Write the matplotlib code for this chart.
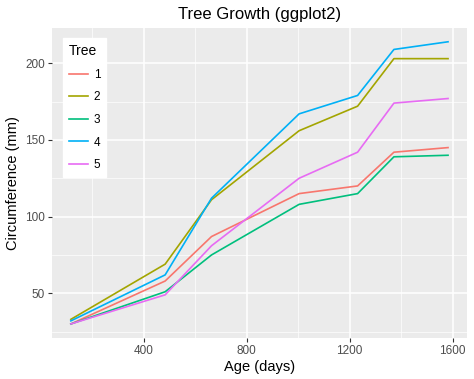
import matplotlib
matplotlib.use("Agg")
import matplotlib.pyplot as plt
from matplotlib.ticker import MultipleLocator

plt.rcParams['font.family'] = ['Liberation Sans', 'DejaVu Sans']

# Orange tree data
age = [118, 484, 664, 1004, 1231, 1372, 1582]
trees = ['1', '2', '3', '4', '5']
tree1 = [30, 58, 87, 115, 120, 142, 145]
tree2 = [33, 69, 111, 156, 172, 203, 203]
tree3 = [30, 51, 75, 108, 115, 139, 140]
tree4 = [32, 62, 112, 167, 179, 209, 214]
tree5 = [30, 49, 81, 125, 142, 174, 177]
colors = ['#F8766D', '#A3A500', '#00BF7D', '#00B0F6', '#E76BF3']

fig = plt.figure(figsize=(4.74, 3.79), dpi=100)
ax = fig.add_axes([0.1097, 0.108, 0.8753, 0.819])
ax.set_facecolor('#EBEBEB')

for name, vals, c in zip(trees, [tree1, tree2, tree3, tree4, tree5], colors):
    ax.plot(age, vals, color=c, lw=1.2, label=name)

ax.set_xlim(44.8, 1655.2)
ax.set_ylim(20.8, 223.2)
ax.xaxis.set_major_locator(MultipleLocator(400))
ax.xaxis.set_minor_locator(MultipleLocator(200))
ax.yaxis.set_major_locator(MultipleLocator(50))
ax.yaxis.set_minor_locator(MultipleLocator(25))
ax.grid(which='major', color='white', lw=1.1)
ax.grid(which='minor', color='white', lw=0.5)
ax.set_axisbelow(True)
for s in ax.spines.values():
    s.set_visible(False)
ax.tick_params(which='major', length=3, color='#333333', labelsize=8.5,
               labelcolor='#4D4D4D', pad=2)
ax.tick_params(which='minor', length=0)

ax.set_xlabel('Age (days)', fontsize=10.5, labelpad=2)
ax.set_ylabel('Circumference (mm)', fontsize=10.5, labelpad=4)
ax.set_title('Tree Growth (ggplot2)', fontsize=12, pad=6)

leg = ax.legend(title='Tree', loc='upper left', bbox_to_anchor=(0.012, 0.985),
                frameon=True, fancybox=False, facecolor='white', edgecolor='white',
                fontsize=8.5, title_fontsize=10, handlelength=1.6,
                labelspacing=0.9, borderpad=0.5, handletextpad=0.5)
leg._legend_box.align = 'left'
leg.get_frame().set_alpha(1)

fig.savefig('out.png', dpi=100)
